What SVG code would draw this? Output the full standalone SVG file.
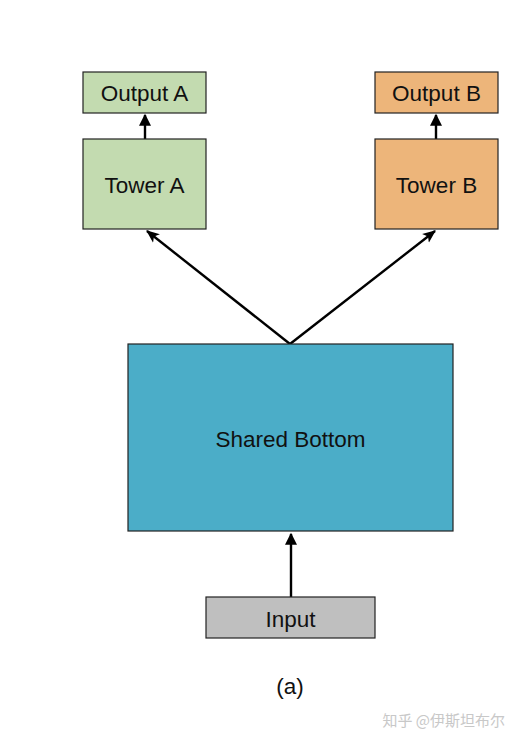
<svg xmlns="http://www.w3.org/2000/svg" width="520" height="742" viewBox="0 0 520 742">
<defs>
<style>
.box{stroke:#222;stroke-width:1.2}
.lbl{font-family:"Liberation Sans",Arial,sans-serif;font-size:22.5px;fill:#111;text-anchor:middle;dominant-baseline:central}
.conn{stroke:#000;stroke-width:2.4;fill:none}
</style>
<marker id="tri" viewBox="0 0 10 10" refX="9" refY="5" markerWidth="5.5" markerHeight="5" markerUnits="strokeWidth" orient="auto">
<path d="M0,0 L10,5 L0,10 z" fill="#000"/>
</marker>
<marker id="barb" viewBox="0 0 12 10" refX="11" refY="5" markerWidth="5.5" markerHeight="4.8" markerUnits="strokeWidth" orient="auto">
<path d="M0,0 L12,5 L0,10 L3,5 z" fill="#000"/>
</marker>
</defs>
<rect width="520" height="742" fill="#fff"/>
<g id="connectors">
<line class="conn" x1="145" y1="139" x2="145" y2="115" marker-end="url(#tri)"/>
<line class="conn" x1="436" y1="139" x2="436" y2="115" marker-end="url(#tri)"/>
<line class="conn" x1="290" y1="344" x2="147" y2="231" marker-end="url(#barb)"/>
<line class="conn" x1="290" y1="344" x2="435" y2="231" marker-end="url(#barb)"/>
<line class="conn" x1="291" y1="597" x2="291" y2="534" marker-end="url(#tri)"/>
</g>
<g id="outputA"><rect class="box" x="83" y="72" width="123" height="41" fill="#c3dbb0"/><text class="lbl" x="144.5" y="93">Output A</text></g>
<g id="towerA"><rect class="box" x="83" y="139" width="123" height="90" fill="#c3dbb0"/><text class="lbl" x="144.5" y="185">Tower A</text></g>
<g id="outputB"><rect class="box" x="375" y="72" width="123" height="41" fill="#edb57a"/><text class="lbl" x="436.5" y="93">Output B</text></g>
<g id="towerB"><rect class="box" x="375" y="139" width="123" height="90" fill="#edb57a"/><text class="lbl" x="436.5" y="185">Tower B</text></g>
<g id="shared"><rect class="box" x="128" y="344" width="325" height="187" fill="#4badc8"/><text class="lbl" x="290.5" y="439">Shared Bottom</text></g>
<g id="input"><rect class="box" x="206" y="597" width="169" height="41" fill="#bfbfbf"/><text class="lbl" x="290.5" y="619">Input</text></g>
<text class="lbl" x="290" y="686">(a)</text>
<text x="505" y="719" font-family="'Noto Sans CJK SC',sans-serif" font-size="15" fill="#c8c8c8" text-anchor="end" dominant-baseline="central">知乎 @伊斯坦布尔</text>
</svg>
